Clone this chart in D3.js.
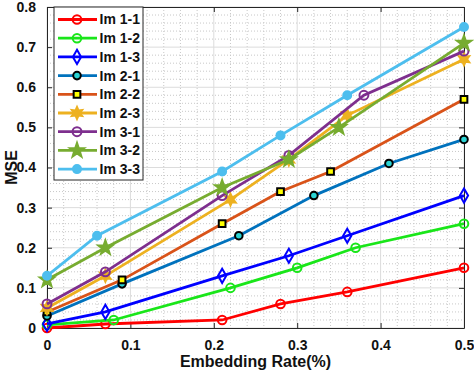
<!DOCTYPE html>
<html lang="en">
<head>
  <meta charset="UTF-8">
  <title>MSE vs Embedding Rate</title>
  <script src="https://d3js.org/d3.v7.min.js"></script>
  <style>
    body {
      margin: 0;
      background: #fff;
      font-family: "Liberation Sans", Arial, sans-serif;
    }
    svg text {
      font-weight: bold;
      fill: #111;
    }
  </style>
</head>
<body>
  <div id="chart"></div>
  <script>
    // values: [embedding rate, MSE]
    const im11 = [[0, 0], [0.07, 0.01], [0.21, 0.02], [0.28, 0.06], [0.36, 0.09], [0.5, 0.15]];
    const im12 = [[0, 0.008], [0.08, 0.02], [0.22, 0.10], [0.30, 0.15], [0.37, 0.20], [0.5, 0.26]];
    const im13 = [[0, 0.01], [0.07, 0.04], [0.21, 0.13], [0.29, 0.18], [0.36, 0.23], [0.5, 0.33]];
    const im21 = [[0, 0.03], [0.09, 0.11], [0.23, 0.23], [0.32, 0.33], [0.41, 0.41], [0.5, 0.47]];
    const im22 = [[0, 0.04], [0.09, 0.12], [0.21, 0.26], [0.28, 0.34], [0.34, 0.39], [0.5, 0.57]];
    const im23 = [[0, 0.05], [0.07, 0.13], [0.22, 0.32], [0.29, 0.42], [0.36, 0.53], [0.5, 0.67]];
    const im31 = [[0, 0.06], [0.07, 0.14], [0.21, 0.33], [0.29, 0.43], [0.38, 0.58], [0.5, 0.69]];
    const im32 = [[0, 0.12], [0.07, 0.20], [0.21, 0.35], [0.29, 0.42], [0.35, 0.50], [0.5, 0.71]];
    const im33 = [[0, 0.13], [0.06, 0.23], [0.21, 0.39], [0.28, 0.48], [0.36, 0.58], [0.5, 0.75]];

    const names = ["Im 1-1", "Im 1-2", "Im 1-3", "Im 2-1", "Im 2-2", "Im 2-3", "Im 3-1", "Im 3-2", "Im 3-3"];
    const values = [im11, im12, im13, im21, im22, im23, im31, im32, im33];
    const colors = ["#ff0000", "#19e619", "#0000ff", "#0072bd", "#d95319", "#edb120", "#7e2f8e", "#77ac30", "#4dbeee"];

    const xTicks = [0, 0.1, 0.2, 0.3, 0.4, 0.5];
    const yTicks = [0, 0.1, 0.2, 0.3, 0.4, 0.5, 0.6, 0.7, 0.8];

    // star with n points (5 = pentagram, 6 = hexagram)
    function starType(n, inner) {
      return {
        draw(ctx, size) {
          const R = Math.sqrt(size) * 0.75;
          for (let i = 0; i < 2 * n; i++) {
            const r = i % 2 ? R * inner : R;
            const a = -Math.PI / 2 + i * Math.PI / n;
            if (i === 0) ctx.moveTo(r * Math.cos(a), r * Math.sin(a));
            else ctx.lineTo(r * Math.cos(a), r * Math.sin(a));
          }
          ctx.closePath();
        }
      };
    }

    const markers = [
      { type: d3.symbolCircle, size: 58, fill: "none", stroke: colors[0] },
      { type: d3.symbolCircle, size: 58, fill: "none", stroke: colors[1] },
      { type: d3.symbolDiamond, size: 58, fill: "none", stroke: colors[2] },
      { type: d3.symbolCircle, size: 45, fill: "#2bd4d4", stroke: "#000" },
      { type: d3.symbolSquare, size: 45, fill: "#ffff00", stroke: "#000" },
      { type: starType(6, 0.5), size: 64, fill: colors[5], stroke: colors[5] },
      { type: d3.symbolCircle, size: 62, fill: "none", stroke: colors[6] },
      { type: starType(5, 0.4), size: 100, fill: colors[7], stroke: colors[7] },
      { type: d3.symbolCircle, size: 50, fill: colors[8], stroke: colors[8] }
    ];

    const W = 474, H = 376;
    const margin = { top: 7, right: 10, bottom: 48, left: 47 };
    const width = W - margin.left - margin.right,
          height = H - margin.top - margin.bottom;

    const svg = d3.select("#chart").append("svg")
      .attr("width", W)
      .attr("height", H);

    const g = svg.append("g")
      .attr("transform", `translate(${margin.left},${margin.top})`);

    const x = d3.scaleLinear().domain([0, 0.5]).range([0, width]);
    const y = d3.scaleLinear().domain([0, 0.8]).range([height, 0]);

    // minor grid (dotted)
    const minorX = d3.range(0, 0.5001, 0.02).filter(v => Math.abs(v * 10 - Math.round(v * 10)) > 1e-6);
    const minorY = d3.range(0, 0.8001, 0.02).filter(v => Math.abs(v * 10 - Math.round(v * 10)) > 1e-6);

    g.append("g").selectAll("line").data(minorX).join("line")
      .attr("x1", d => x(d)).attr("x2", d => x(d))
      .attr("y1", 0).attr("y2", height)
      .attr("stroke", "#c8c8c8").attr("stroke-dasharray", "1,2");
    g.append("g").selectAll("line").data(minorY).join("line")
      .attr("y1", d => y(d)).attr("y2", d => y(d))
      .attr("x1", 0).attr("x2", width)
      .attr("stroke", "#c8c8c8").attr("stroke-dasharray", "1,2");

    // major grid
    g.append("g").selectAll("line").data(xTicks).join("line")
      .attr("x1", d => x(d)).attr("x2", d => x(d))
      .attr("y1", 0).attr("y2", height)
      .attr("stroke", "#dcdcdc");
    g.append("g").selectAll("line").data(yTicks).join("line")
      .attr("y1", d => y(d)).attr("y2", d => y(d))
      .attr("x1", 0).attr("x2", width)
      .attr("stroke", "#dcdcdc");

    // axes with inward ticks, box on all sides
    const fmt = d => d === 0 ? "0" : d3.format(".1f")(d);
    const axisStyle = sel => {
      sel.select(".domain").attr("stroke", "#262626");
      sel.selectAll(".tick line").attr("stroke", "#262626");
      sel.selectAll("text").style("font-size", "14px").style("font-family", "'Liberation Sans', Arial, sans-serif").attr("fill", "#111");
    };

    g.append("g")
      .attr("transform", `translate(0,${height})`)
      .call(d3.axisBottom(x).tickValues(xTicks).tickFormat(fmt).tickSizeInner(-5).tickSizeOuter(0).tickPadding(12))
      .call(axisStyle);
    g.append("g")
      .call(d3.axisTop(x).tickValues(xTicks).tickFormat("").tickSizeInner(-5).tickSizeOuter(0))
      .call(axisStyle);
    g.append("g")
      .call(d3.axisLeft(y).tickValues(yTicks).tickFormat(fmt).tickSizeInner(-5).tickSizeOuter(0).tickPadding(11))
      .call(axisStyle);
    g.append("g")
      .attr("transform", `translate(${width},0)`)
      .call(d3.axisRight(y).tickValues(yTicks).tickFormat("").tickSizeInner(-5).tickSizeOuter(0))
      .call(axisStyle);

    // series
    const line = d3.line().x(d => x(d[0])).y(d => y(d[1]));

    values.forEach((vals, i) => {
      const m = markers[i];
      const s = g.append("g");
      s.append("path")
        .attr("d", line(vals))
        .attr("fill", "none")
        .attr("stroke", colors[i])
        .attr("stroke-width", 2.8);
      s.selectAll("path.mk").data(vals).join("path")
        .attr("class", "mk")
        .attr("transform", d => `translate(${x(d[0])},${y(d[1])})`)
        .attr("d", d3.symbol().type(m.type).size(m.size))
        .attr("fill", m.fill)
        .attr("stroke", m.stroke)
        .attr("stroke-width", 2);
    });

    // legend
    const legend = g.append("g").attr("transform", "translate(7,0)");
    legend.append("rect")
      .attr("width", 89).attr("height", 173)
      .attr("fill", "#fff").attr("stroke", "#262626");

    const item = legend.selectAll("g.item").data(names).join("g")
      .attr("class", "item")
      .attr("transform", (d, i) => `translate(0,${12.5 + i * 18.7})`);

    item.append("line")
      .attr("x1", 4).attr("x2", 43)
      .attr("stroke", (d, i) => colors[i])
      .attr("stroke-width", 2.8);
    item.append("path")
      .attr("transform", "translate(23,0)")
      .attr("d", (d, i) => d3.symbol().type(markers[i].type).size(markers[i].size)())
      .attr("fill", (d, i) => markers[i].fill)
      .attr("stroke", (d, i) => markers[i].stroke)
      .attr("stroke-width", 2);
    item.append("text")
      .attr("x", 45.5)
      .attr("dy", "0.35em")
      .style("font-size", "14px")
      .text(d => d);

    // axis titles
    svg.append("text")
      .attr("x", margin.left + width / 2)
      .attr("y", 367)
      .attr("text-anchor", "middle")
      .style("font-size", "16px")
      .text("Embedding Rate(%)");

    svg.append("text")
      .attr("transform", `translate(17,${margin.top + height / 2}) rotate(-90)`)
      .attr("text-anchor", "middle")
      .style("font-size", "16px")
      .text("MSE");
  </script>
</body>
</html>
